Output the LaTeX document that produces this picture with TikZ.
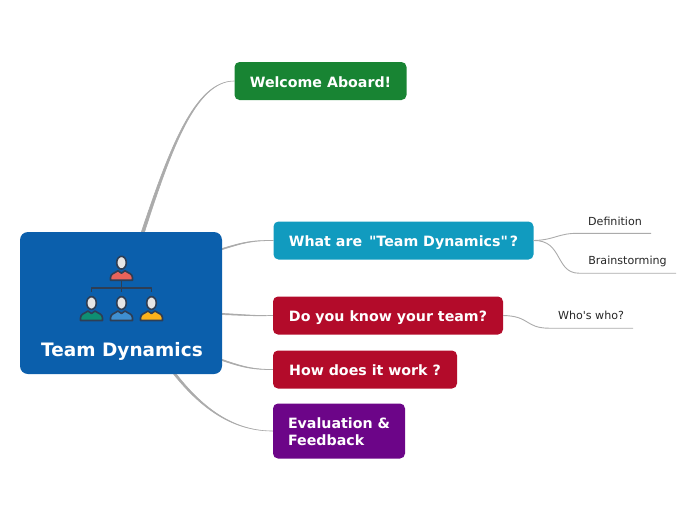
\documentclass[tikz,border=0pt]{standalone}
\usepackage{fontspec}
\newfontfamily\mapfont{DejaVu Sans}
\usetikzlibrary{backgrounds}
\definecolor{rootblue}{HTML}{0B5FAC}
\definecolor{welcomegreen}{HTML}{188433}
\definecolor{whatcyan}{HTML}{119BBF}
\definecolor{knowred}{HTML}{B30B2A}
\definecolor{evalpurple}{HTML}{6C0588}
\definecolor{linkgray}{HTML}{ABABAB}
\definecolor{iconink}{HTML}{2E3E55}
\definecolor{headgray}{HTML}{E6E6E6}
\definecolor{shirtred}{HTML}{E9635A}
\definecolor{shirtgreen}{HTML}{0E8F73}
\definecolor{shirtblue}{HTML}{3F8FD0}
\definecolor{shirtyellow}{HTML}{FDB21B}
\tikzstyle{topic} = [rectangle, rounded corners=5pt, inner sep=0pt, text=white, font=\mapfont\fontsize{14.2}{17}\selectfont\bfseries]
\tikzstyle{oneline} = [text height=12pt, text depth=0pt]
\tikzstyle{subtopic} = [rectangle, inner sep=0pt, text height=8pt, text depth=3.2pt, text=black!85, font=\mapfont\fontsize{11.1}{13}\selectfont]
\tikzstyle{branch} = [draw=linkgray, fill=linkgray, line width=0.6pt, line join=round]
\tikzstyle{twig} = [draw=linkgray, line width=0.9pt]
\tikzstyle{icon} = [draw=iconink, line width=1.6pt, line join=round]
% tapered branch: start, control, control, end, half width in x and y
\newcommand{\branch}[6]{
  \draw[branch] ([shift={(#5,#6)}]#1) .. controls ([shift={(#5*0.67,#6*0.67)}]#2) and ([shift={(#5*0.33,#6*0.33)}]#3) .. (#4)
    .. controls ([shift={(-#5*0.33,-#6*0.33)}]#3) and ([shift={(-#5*0.67,-#6*0.67)}]#2) .. ([shift={(-#5,-#6)}]#1) -- cycle;
}
% one person of the icon: head centre and shirt colour
\newcommand{\person}[3]{
  \draw[icon, fill=#3] (#1-11,#2+17.5) -- (#1-11,#2+15) .. controls (#1-11,#2+11) and (#1-7,#2+10.5) .. (#1-3.5,#2+8)
    -- (#1,#2+10.5) -- (#1+3.5,#2+8) .. controls (#1+7,#2+10.5) and (#1+11,#2+11) .. (#1+11,#2+15) -- (#1+11,#2+17.5) -- cycle;
  \draw[icon, fill=headgray] (#1,#2) ellipse [x radius=4.8, y radius=6.4];
}
\begin{document}
\begin{tikzpicture}[x=1pt,y=-1pt]
  \useasboundingbox (0,0) rectangle (696,520);

  \node (root) [topic, fill=rootblue, minimum width=202pt, minimum height=142pt, rounded corners=8pt] at (121,303) {};
  \node (root label) [text=white, inner sep=0pt, text height=14pt, text depth=0pt, font=\mapfont\fontsize{18.5}{21}\selectfont\bfseries] at (122,349) {Team Dynamics};
  \node (welcome) [topic, oneline, fill=welcomegreen, minimum width=172pt, minimum height=38pt] at (320.5,81) {Welcome Aboard!};
  \node (what) [topic, oneline, fill=whatcyan, minimum width=260pt, minimum height=38pt] at (403.5,240.5) {What are \kern2pt"Team Dynamics"\kern2pt?};
  \node (know) [topic, oneline, fill=knowred, minimum width=230pt, minimum height=38pt] at (388,315.5) {Do you know your team?};
  \node (how) [topic, oneline, fill=knowred, minimum width=184pt, minimum height=38pt] at (365,369.5) {How does it work ?};
  \node (eval) [topic, fill=evalpurple, minimum width=132pt, minimum height=55pt, align=left] at (339,431) {\rule{0pt}{12pt}Evaluation \&\\Feedback\hspace*{24pt}};
  \node (definition) [subtopic, minimum width=72pt, minimum height=21pt] at (615,222.6) {Definition};
  \node (brainstorm) [subtopic, minimum width=97pt, minimum height=22pt] at (627.5,262) {Brainstorming};
  \node (who) [subtopic, minimum width=84pt, minimum height=22pt] at (591,317) {Who's who?};

  \coordinate (root top) at ([xshift=22pt]root.north);
  \coordinate (root bottom) at ([xshift=54pt]root.south);
  \begin{scope}[on background layer]
    \branch{root top}{170,150}{195,81}{welcome.west}{1.6}{0}
    \branch{root.east |- 0,249}{245,242}{252,240.5}{what.west}{0}{0.6}
    \branch{root.east |- 0,314}{245,315}{255,316}{know.west}{0}{0.6}
    \branch{root.east |- 0,360}{245,368}{255,369.5}{how.west}{0}{0.6}
    \branch{root bottom}{208,416}{240,431}{eval.west}{1.4}{0}
  \end{scope}

  \draw[twig] (what.east) .. controls (555,240) and (558,233) .. (definition.south west) -- (definition.south east);
  \draw[twig] (what.east) .. controls (563,240) and (555,273) .. (brainstorm.south west) -- (brainstorm.south east);
  \draw[twig] (know.east) .. controls (530,316) and (525,328) .. (who.south west) -- (who.south east);

  % icon
  \draw[icon] (121.5,280) -- (121.5,292);
  \draw[icon] (91.5,292) -- (91.5,287.7) -- (151.5,287.7) -- (151.5,292);
  \person{121.5}{262.7}{shirtred}
  \person{91.5}{303}{shirtgreen}
  \person{121.5}{303}{shirtblue}
  \person{151.5}{303}{shirtyellow}
\end{tikzpicture}
\end{document}
